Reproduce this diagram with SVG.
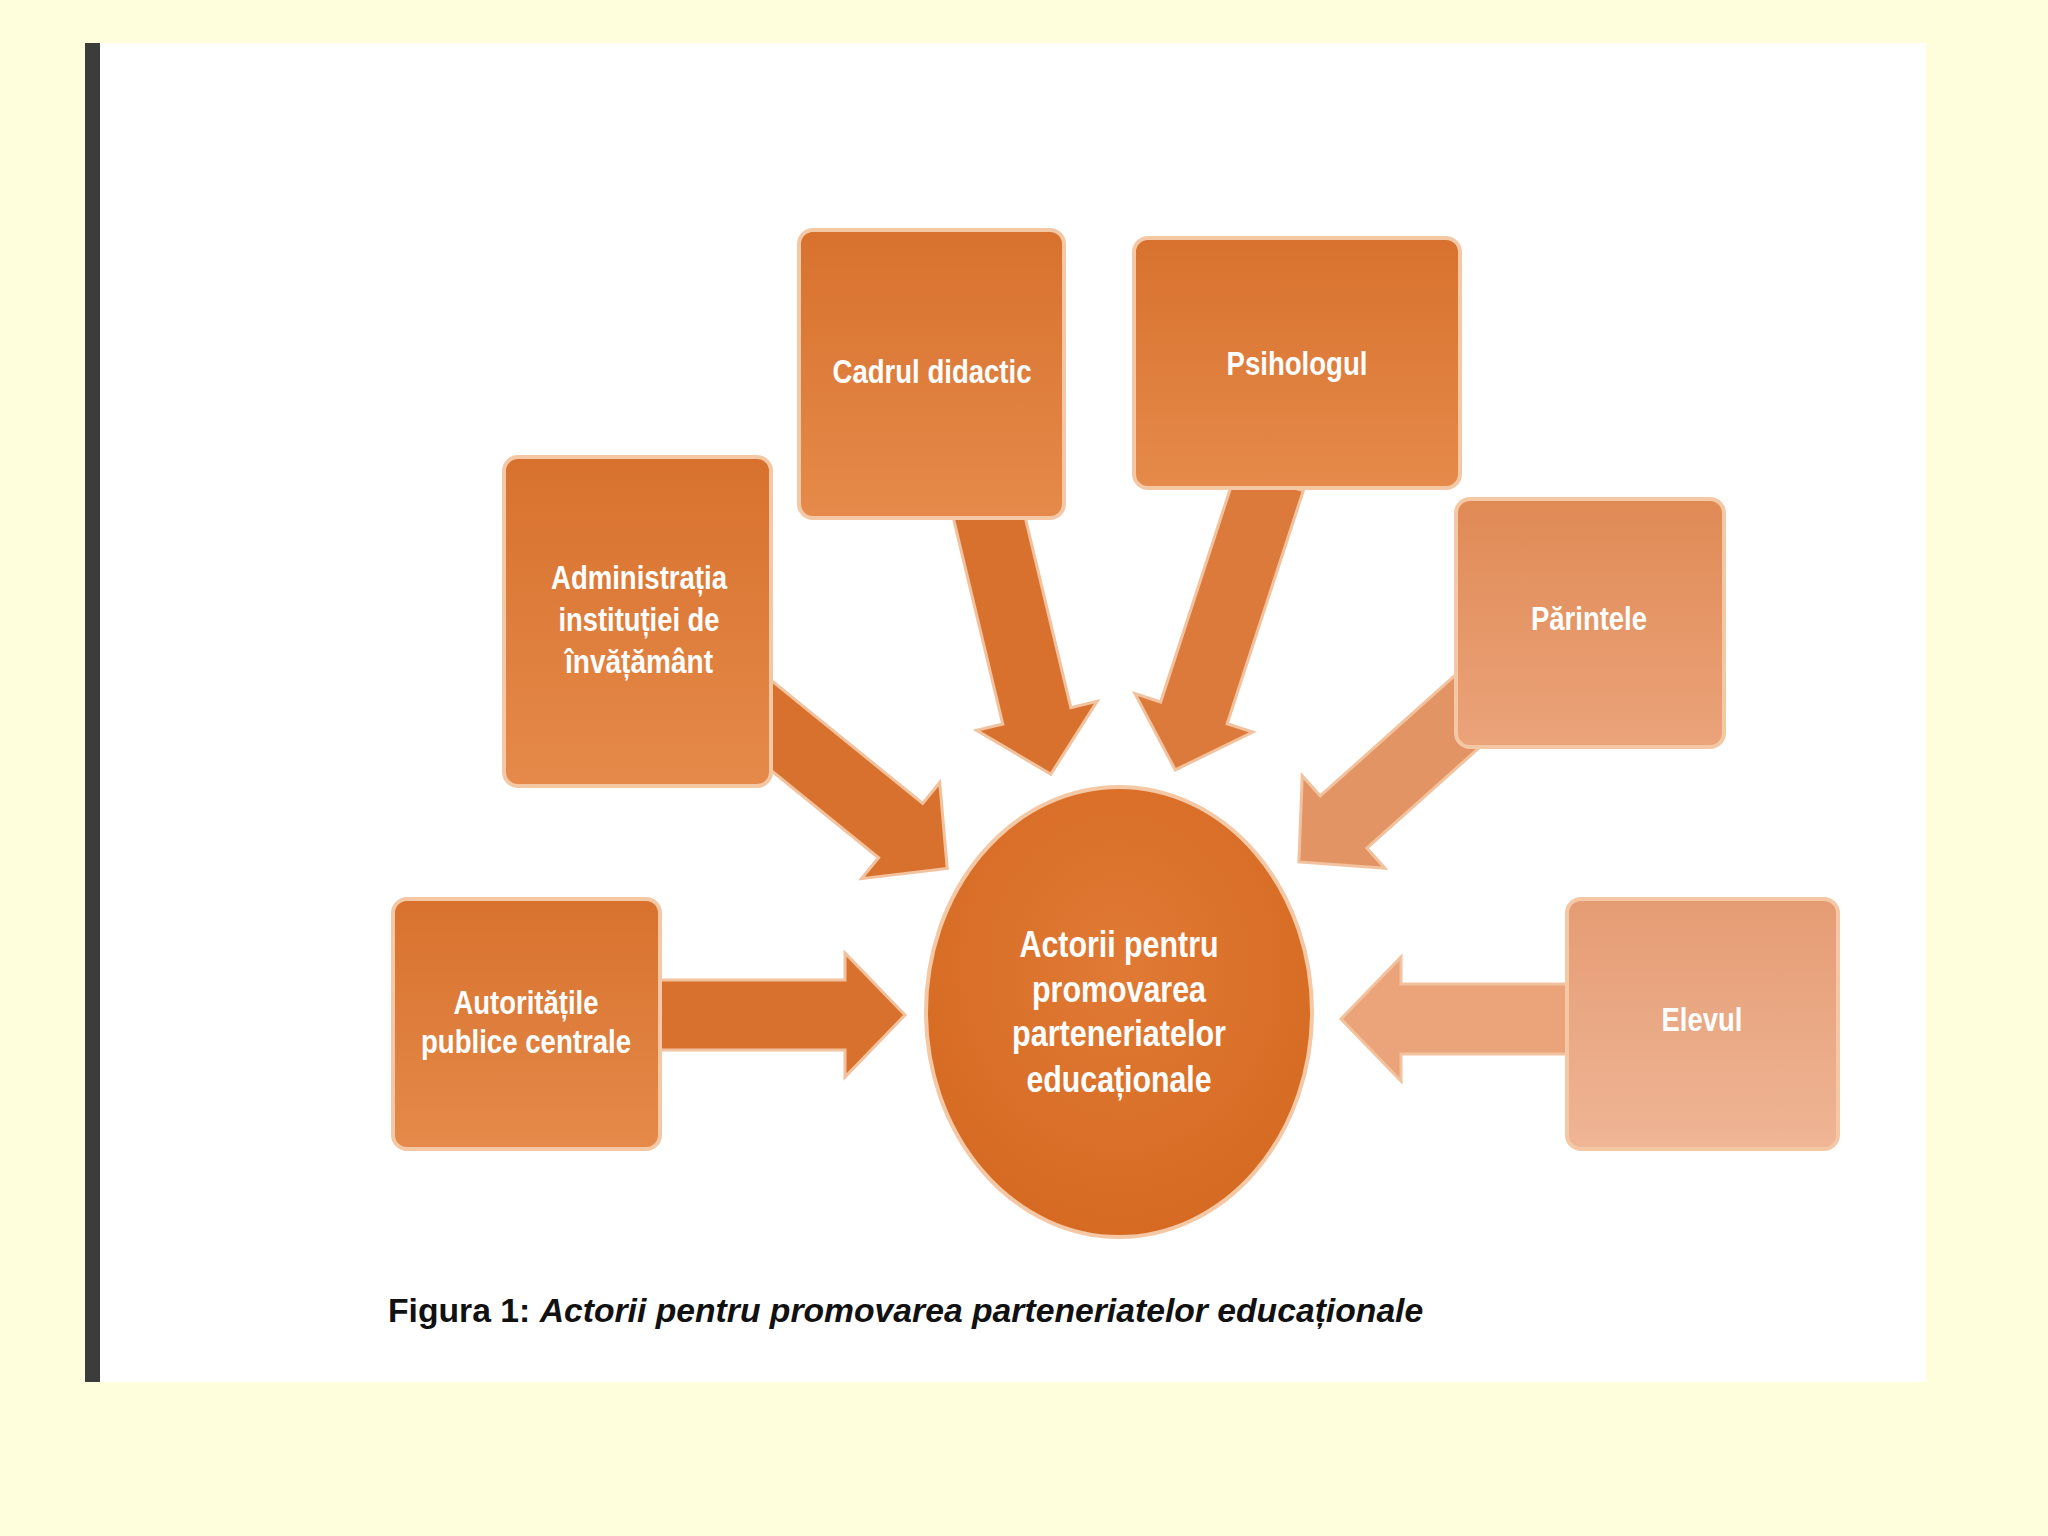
<svg xmlns="http://www.w3.org/2000/svg" width="2048" height="1536" viewBox="0 0 2048 1536">
<defs>
<linearGradient id="g1" x1="0" y1="0" x2="0" y2="1"><stop offset="0" stop-color="#D8712E"/><stop offset="1" stop-color="#E58A4A"/></linearGradient>
<linearGradient id="g2" x1="0" y1="0" x2="0" y2="1"><stop offset="0" stop-color="#E08A55"/><stop offset="1" stop-color="#EBA37A"/></linearGradient>
<linearGradient id="g3" x1="0" y1="0" x2="0" y2="1"><stop offset="0" stop-color="#E59C74"/><stop offset="1" stop-color="#EFB595"/></linearGradient>
<radialGradient id="gc" cx="0.5" cy="0.4" r="0.6"><stop offset="0" stop-color="#E07A35"/><stop offset="1" stop-color="#D66A22"/></radialGradient>
</defs>
<style>
.b{stroke:#F4C7A5;stroke-width:4}
.t{font-family:"Liberation Sans",Arial,sans-serif;font-weight:bold;fill:#fff;font-size:34px;text-anchor:middle}
.a{stroke:#F2C29E;stroke-width:3}
</style>
<rect width="2048" height="1536" fill="#FEFEDC"/>
<rect x="85" y="43" width="1841" height="1339" fill="#fff"/>
<rect x="85" y="43" width="15" height="1339" fill="#3C3C3C"/>
<g id="connectors">
<path class="a" fill="#D8712E" transform="translate(640,1015)" d="M0,-35H205V-62L265,0L205,62V35H0Z"/>
<path class="a" fill="#EBA37A" transform="translate(1590,1019) rotate(180)" d="M0,-35H189V-62L249,0L189,62V35H0Z"/>
<path class="a" fill="#D8712E" transform="translate(740,700) rotate(39.1)" d="M0,-35H207V-62L267,0L207,62V35H0Z"/>
<path class="a" fill="#D8712E" transform="translate(985,500) rotate(76.5)" d="M0,-35H222V-62L282,0L222,62V35H0Z"/>
<path class="a" fill="#DC7A3C" transform="translate(1270,480) rotate(108.1)" d="M0,-35H245V-62L305,0L245,62V35H0Z"/>
<path class="a" fill="#E39464" transform="translate(1480,700) rotate(138.2)" d="M0,-35H183V-62L243,0L183,62V35H0Z"/>
</g>
<g id="cadrul"><rect class="b" x="799" y="230" width="265" height="288" rx="14" fill="url(#g1)"/><text class="t" x="932" y="383" textLength="199" lengthAdjust="spacingAndGlyphs">Cadrul didactic</text></g>
<g id="psihologul"><rect class="b" x="1134" y="238" width="326" height="250" rx="14" fill="url(#g1)"/><text class="t" x="1297" y="375" textLength="141" lengthAdjust="spacingAndGlyphs">Psihologul</text></g>
<g id="administratia"><rect class="b" x="504" y="457" width="267" height="329" rx="14" fill="url(#g1)"/><text class="t" x="639" y="589" textLength="176" lengthAdjust="spacingAndGlyphs">Administrația</text><text class="t" x="639" y="631" textLength="161" lengthAdjust="spacingAndGlyphs">instituției de</text><text class="t" x="639" y="673" textLength="148" lengthAdjust="spacingAndGlyphs">învățământ</text></g>
<g id="parintele"><rect class="b" x="1456" y="499" width="268" height="248" rx="14" fill="url(#g2)"/><text class="t" x="1589" y="630" textLength="116" lengthAdjust="spacingAndGlyphs">Părintele</text></g>
<g id="autoritatile"><rect class="b" x="393" y="899" width="267" height="250" rx="14" fill="url(#g1)"/><text class="t" x="526" y="1014" textLength="145" lengthAdjust="spacingAndGlyphs">Autoritățile</text><text class="t" x="526" y="1053" textLength="210" lengthAdjust="spacingAndGlyphs">publice centrale</text></g>
<g id="elevul"><rect class="b" x="1567" y="899" width="271" height="250" rx="14" fill="url(#g3)"/><text class="t" x="1702" y="1031" textLength="81" lengthAdjust="spacingAndGlyphs">Elevul</text></g>
<g id="centru"><ellipse class="b" cx="1119" cy="1012" rx="193" ry="225" fill="url(#gc)"/><text class="t" style="font-size:37px" x="1119" y="957" textLength="199" lengthAdjust="spacingAndGlyphs">Actorii pentru</text><text class="t" style="font-size:37px" x="1119" y="1002" textLength="174" lengthAdjust="spacingAndGlyphs">promovarea</text><text class="t" style="font-size:37px" x="1119" y="1046" textLength="214" lengthAdjust="spacingAndGlyphs">parteneriatelor</text><text class="t" style="font-size:37px" x="1119" y="1092" textLength="185" lengthAdjust="spacingAndGlyphs">educaționale</text></g>
<text x="388" y="1322" style="font-family:'Liberation Sans',Arial,sans-serif;font-weight:bold;font-size:33.7px" fill="#111">Figura 1: <tspan font-style="italic">Actorii pentru promovarea parteneriatelor educaționale</tspan></text>
</svg>
